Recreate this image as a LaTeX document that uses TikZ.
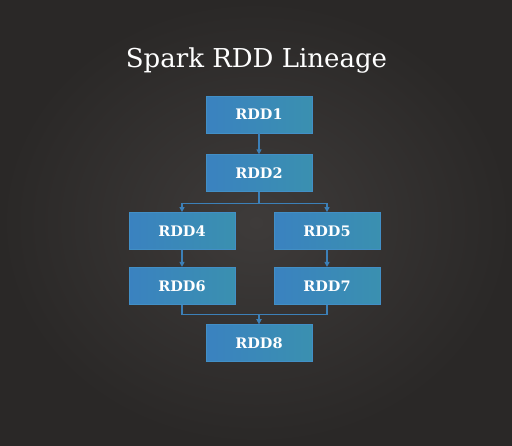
\documentclass[tikz,border=0pt]{standalone}
\usepackage{fontspec}
\setmainfont{DejaVu Serif}
\usetikzlibrary{positioning,arrows.meta}

\definecolor{bgin}{HTML}{3E3B3A}
\definecolor{bgout}{HTML}{2A2827}
\definecolor{rddleft}{HTML}{3A82C0}
\definecolor{rddright}{HTML}{3A90B0}
\definecolor{rddedge}{HTML}{428FC6}
\definecolor{linkcol}{HTML}{3C80B8}

\begin{document}
\begin{tikzpicture}[x=1pt, y=-1pt,
    rdd/.style={rectangle, draw=rddedge, line width=0.8pt, left color=rddleft, right color=rddright,
        minimum width=106pt, minimum height=37pt, inner sep=0pt, text=white,
        font=\fontsize{14.5}{14.5}\selectfont\bfseries},
    link/.style={draw=linkcol, line width=1.2pt, -{Triangle[length=5pt,width=5pt]}},
    node distance=21pt
]

\shade[inner color=bgin, outer color=bgout] (0,0) rectangle (512,445);
\useasboundingbox (0,0) rectangle (512,445);

\node [text=white, font=\fontsize{26}{26}\selectfont] (Title) at (256.5,61) {Spark RDD Lineage};

\node [rdd] (RDD1) at (259,114.5) {RDD1};
\node [rdd, below=21pt of RDD1] (RDD2) {RDD2};
\node [rdd] (RDD4) at (182,231) {RDD4};
\node [rdd] (RDD5) at (327,231) {RDD5};
\node [rdd, below=17pt of RDD4] (RDD6) {RDD6};
\node [rdd, below=17pt of RDD5] (RDD7) {RDD7};
\node [rdd] (RDD8) at (259,343) {RDD8};

\draw [link] (RDD1) -- (RDD2);
\draw [link] (RDD2.south) -- ++(0,11) -| (RDD4.north);
\draw [link] (RDD2.south) -- ++(0,11) -| (RDD5.north);
\draw [link] (RDD4) -- (RDD6);
\draw [link] (RDD5) -- (RDD7);
\draw [link] (RDD6.south) -- ++(0,10) -| (RDD8.north);
\draw [link] (RDD7.south) -- ++(0,10) -| (RDD8.north);

\end{tikzpicture}
\end{document}
